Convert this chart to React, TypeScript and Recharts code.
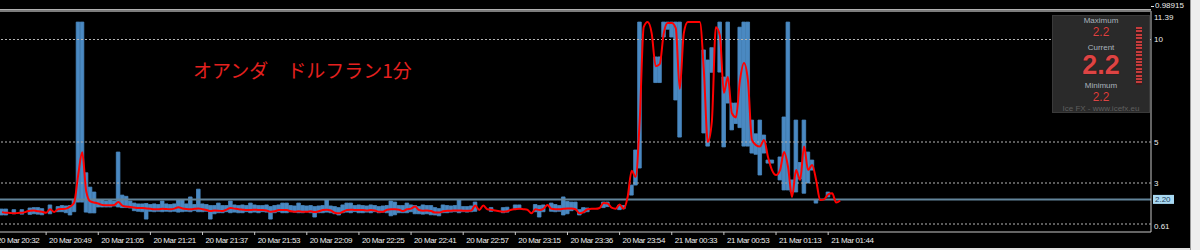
import React from "react";
import { ComposedChart, Bar, Line, XAxis, YAxis, ReferenceLine } from "recharts";

// spread range per 1-minute bar (low / high), null = no bar
const spreadLow: (number | null)[] = [
  1.44, 1.44, null, 1.5, null, 1.48, null, 1.47, 1.5, 1.48,
  1.45, null, 1.5, null, 1.6, 1.6, 1.55, 1.44, 1.6, 2.07,
  2.07, 1.58, 1.54, 1.54, 1.83, 1.83, 1.83, 1.83, 1.88, 1.83,
  1.8, 1.8, 1.78, 1.65, 1.62, 1.6, 1.24, 1.62, 1.6, 1.62,
  1.6, 1.62, 1.6, 1.62, 1.58, 1.6, 1.62, 1.6, 1.65, 1.6,
  1.6, 1.62, 1.24, 1.5, 1.55, 1.55, 1.6, 1.55, 1.58, 1.55,
  1.55, 1.6, 1.55, 1.58, 1.55, 1.6, 1.58, 1.24, 1.55, 1.6,
  1.55, 1.55, 1.6, 1.58, 1.55, 1.55, 1.6, 1.55, 1.34, 1.55,
  1.55, 1.58, 1.55, 1.5, 1.44, 1.55, 1.58, 1.55, 1.6, 1.55,
  1.55, 1.58, 1.55, 1.6, 1.55, 1.58, 1.55, 1.4, 1.45, 1.55,
  1.55, 1.55, 1.6, 1.5, 1.5, 1.48, 1.5, 1.45, 1.44, 1.4,
  1.55, 1.55, 1.58, 1.6, 1.55, 1.6, 1.58, 1.6, 1.62, null,
  null, null, 1.62, null, null, 1.55, 1.58, null, 1.75, 1.75,
  null, null, null, 1.6, 1.34, 1.6, null, 1.62, 1.6, 1.62,
  1.44, 1.5, 1.65, 1.7, 1.44, 1.55, 1.6, null, null, null,
  1.8, 1.85, null, null, 1.7, 1.75, null, 2.41, 2.9, 3.73,
  null, null, null, 7.9, 7.9, 10.12, 10.5, 10.12, 7.05, 5.24,
  null, null, null, null, null, 5.44, 4.8, 8.4, null, 8.41,
  4.76, 6.9, 5.59, 5.9, 5.7, 4.8, 4.8, 4.46, 4.4, 3.39,
  4.46, 3.97, 3.97, null, 3.15, 2.66, 2.66, 2.56, 2.56, 3.2,
  2.5, 3.0, 3.63, 2.02, null, null, 2.32, null, null, null,
];

const spreadHigh: (number | null)[] = [
  1.73, 1.73, null, 1.7, null, 1.7, null, 1.78, 1.8, 1.8,
  1.75, null, 1.93, null, 1.85, 1.9, 1.88, 1.9, 2.2, 10.85,
  10.85, 3.5, 2.8, 2.56, 2.17, 2.17, 2.12, 2.17, 2.12, 4.51,
  2.41, 2.35, 2.12, 2.02, 1.98, 1.98, 2.0, 1.95, 1.98, 1.95,
  2.12, 1.98, 1.95, 1.98, 2.17, 2.17, 1.98, 2.32, 1.95, 2.7,
  1.98, 1.95, 1.9, 1.9, 2.02, 1.9, 1.9, 2.12, 1.93, 1.9,
  1.93, 1.9, 2.02, 1.93, 1.9, 1.9, 1.93, 1.85, 1.9, 1.93,
  2.02, 2.02, 1.9, 1.88, 2.02, 1.9, 1.88, 1.9, 1.85, 1.88,
  1.9, 2.17, 1.88, 1.85, 1.8, 1.93, 2.02, 2.02, 1.9, 1.93,
  1.9, 1.88, 1.93, 1.9, 1.85, 1.88, 1.9, 2.12, 2.07, 1.9,
  1.9, 2.02, 1.93, 1.9, 1.85, 1.93, 1.9, 1.9, 1.8, 1.75,
  1.93, 1.9, 1.88, 1.9, 2.17, 1.85, 1.85, 1.88, 2.07, null,
  null, null, 1.8, null, null, 1.8, 1.82, null, 1.93, 1.93,
  null, null, null, 1.95, 1.9, 1.93, null, 2.02, 1.95, 1.9,
  2.32, 2.1, 2.07, 2.07, 1.7, 1.8, 1.78, null, null, null,
  2.07, 2.07, null, null, 1.92, 1.9, null, 2.9, 4.61, 10.85,
  null, null, null, 9.15, 9.15, 10.85, 10.85, 10.85, 10.85, 10.85,
  null, null, null, null, null, 9.49, 9.0, 9.6, null, 10.85,
  8.17, 10.85, 6.9, 6.9, 10.6, 10.85, 10.85, 6.07, 5.4, 6.07,
  5.34, 4.12, 4.12, null, 4.27, 6.22, 10.85, 3.15, 6.07, 4.0,
  6.07, 4.51, 4.12, 2.17, null, null, 2.56, null, null, null,
];

// average spread (red line)
const avgSpread: number[] = [
  1.58, 1.55, 1.54, 1.52, 1.54, 1.55, 1.6, 1.65, 1.66, 1.62,
  1.6, 1.55, 1.72, 1.58, 1.72, 1.73, 1.75, 1.85, 2.05, 3.4,
  4.5, 2.6, 2.1, 2.05, 2.0, 1.93, 1.92, 1.92, 1.93, 2.07,
  1.9, 1.85, 1.83, 1.8, 1.78, 1.78, 1.76, 1.74, 1.72, 1.72,
  1.74, 1.73, 1.72, 1.75, 1.82, 1.76, 1.73, 1.72, 1.74, 1.76,
  1.72, 1.68, 1.63, 1.66, 1.65, 1.63, 1.7, 1.78, 1.75, 1.72,
  1.7, 1.68, 1.68, 1.7, 1.68, 1.68, 1.66, 1.6, 1.62, 1.68,
  1.68, 1.68, 1.62, 1.6, 1.62, 1.6, 1.6, 1.62, 1.58, 1.62,
  1.68, 1.7, 1.66, 1.55, 1.52, 1.6, 1.68, 1.7, 1.68, 1.68,
  1.68, 1.66, 1.68, 1.66, 1.6, 1.6, 1.7, 1.72, 1.72, 1.7,
  1.63, 1.72, 1.75, 1.85, 1.68, 1.65, 1.66, 1.63, 1.56, 1.56,
  1.62, 1.65, 1.65, 1.66, 1.66, 1.65, 1.65, 1.66, 1.9, 1.68,
  1.9, 1.72, 1.7, 1.66, 1.62, 1.6, 1.62, 1.7, 1.72, 1.74,
  1.72, 1.7, 1.52, 1.72, 1.68, 1.74, 1.93, 1.74, 1.72, 1.72,
  1.74, 1.76, 1.76, 1.72, 1.52, 1.58, 1.72, 1.74, 1.74, 1.78,
  2.02, 2.0, 1.8, 1.75, 1.95, 1.75, 2.32, 3.6, 3.3, 6.0,
  10.6, 10.85, 10.3, 8.7, 8.8, 10.3, 10.8, 10.8, 10.55, 7.6,
  10.3, 10.85, 10.85, 10.85, 10.85, 8.5, 5.0, 6.0, 10.6, 10.2,
  7.4, 8.17, 6.4, 6.2, 8.0, 8.85, 8.0, 5.1, 4.85, 4.78,
  5.1, 4.27, 3.63, 3.39, 3.63, 4.51, 3.78, 2.32, 3.63, 3.15,
  4.78, 3.63, 3.88, 3.15, 2.17, 2.2, 2.45, 2.5, 2.05, 2.15,
];

const tickIndex = [-2, 11, 24, 37, 50, 63, 76, 89, 102, 115, 128, 141, 154, 167, 180, 193, 206];
const tickLabels = [
  "20 Mar 20:32", "20 Mar 20:49", "20 Mar 21:05", "20 Mar 21:21", "20 Mar 21:37",
  "20 Mar 21:53", "20 Mar 22:09", "20 Mar 22:25", "20 Mar 22:41", "20 Mar 22:57",
  "20 Mar 23:15", "20 Mar 23:36", "20 Mar 23:54", "21 Mar 00:33", "21 Mar 00:53",
  "21 Mar 01:13", "21 Mar 01:44",
];
const yTicks = [0.61, 2.2, 3, 5, 10, 11.39];
const yDomain: [number, number] = [0.61, 11.39];
const gridLevels = [10, 5, 3, 1.0];
const currentSpread = 2.2;
const maxSpread = 2.2;
const minSpread = 2.2;
const topPrice = "0.98915";
const title = "オアンダ　ドルフラン1分";

const data = avgSpread.map((v, i) => ({
  idx: i,
  range:
    spreadLow[i] != null && spreadHigh[i] != null ? [spreadLow[i], spreadHigh[i]] : null,
  avg: v,
}));

const FONT = "'Liberation Sans', Arial, sans-serif";
const BAR_COLOR = "#4a89c2";

const XTick = (props: any) => {
  const { x, y, payload } = props;
  const k = tickIndex.indexOf(payload.value);
  const label = k >= 0 ? tickLabels[k] : "";
  return (
    <text
      x={x + 3}
      y={y + 8}
      fill="#ececec"
      fontSize={8}
      fontFamily={FONT}
      letterSpacing={-0.4}
      textAnchor="start"
    >
      {label}
    </text>
  );
};

const YTick = (props: any) => {
  const { x, y, payload } = props;
  const v = payload.value;
  if (v === currentSpread) {
    return (
      <g>
        <rect x={x - 1} y={y - 4.5} width={21} height={9} fill="#a9d9f2" />
        <text x={x + 1} y={y + 3} fill="#23405a" fontSize={8} fontFamily={FONT}>
          {v.toFixed(2)}
        </text>
      </g>
    );
  }
  let dy = 3;
  if (v === yDomain[1]) dy = 9;
  if (v === yDomain[0]) dy = -3;
  return (
    <text x={x} y={y + dy} fill="#ececec" fontSize={8} fontFamily={FONT} textAnchor="start">
      {String(v)}
    </text>
  );
};

const panelLabel: React.CSSProperties = {
  position: "absolute",
  left: 0,
  width: 98,
  textAlign: "center",
  fontFamily: FONT,
  fontSize: 8,
  color: "#a9b3bd",
  lineHeight: "9px",
};
const panelValue: React.CSSProperties = {
  position: "absolute",
  left: 0,
  width: 98,
  textAlign: "center",
  fontFamily: FONT,
  fontSize: 12,
  color: "#d94646",
  lineHeight: "12px",
  textShadow: "0 0 1px #3a0000",
};

export default function App() {
  return (
    <div
      style={{
        position: "absolute",
        left: 0,
        top: 0,
        width: 1200,
        height: 250,
        background: "#000",
        overflow: "hidden",
      }}
    >
      <ComposedChart
        width={1200}
        height={250}
        data={data}
        margin={{ top: 11, right: 0, bottom: 0, left: 0 }}
        barGap={0}
        barCategoryGap={0}
      >
        {gridLevels.map((g) => (
          <ReferenceLine key={g} y={g} stroke="#b5b5b5" strokeDasharray="2 2" strokeWidth={1} />
        ))}
        <ReferenceLine y={currentSpread} stroke="#62849a" strokeWidth={2} />
        <XAxis
          dataKey="idx"
          type="number"
          domain={[-0.5, 286.5]}
          allowDataOverflow
          ticks={tickIndex}
          interval={0}
          tick={<XTick />}
          tickSize={3}
          tickMargin={0}
          tickLine={{ stroke: "#c8c8c8" }}
          axisLine={{ stroke: "#c8c8c8" }}
          height={18}
        />
        <YAxis
          orientation="right"
          type="number"
          domain={yDomain}
          allowDataOverflow
          ticks={yTicks}
          interval={0}
          width={49}
          tick={<YTick />}
          tickSize={0}
          tickMargin={3}
          tickLine={false}
          axisLine={{ stroke: "#c8c8c8" }}
        />
        <Bar
          dataKey="range"
          fill={BAR_COLOR}
          stroke={BAR_COLOR}
          strokeWidth={0.8}
          barSize={5}
          isAnimationActive={false}
        />
        <Line
          dataKey="avg"
          type="monotone"
          stroke="#ff0000"
          strokeWidth={2}
          dot={false}
          isAnimationActive={false}
        />
      </ComposedChart>

      {/* top frame line */}
      <div style={{ position: "absolute", left: 0, top: 9, width: 1151, height: 1, background: "#b0b0b0" }} />
      <div style={{ position: "absolute", left: 0, top: 10, width: 1151, height: 2, background: "#7c7c7c" }} />
      {/* top price label */}
      <div style={{ position: "absolute", left: 1151, top: 6, width: 3, height: 1, background: "#e6e6e6" }} />
      <div
        style={{
          position: "absolute",
          left: 1155,
          top: 1,
          fontFamily: FONT,
          fontSize: 8,
          lineHeight: "10px",
          color: "#ececec",
        }}
      >
        {topPrice}
      </div>
      {/* right window strip */}
      <div style={{ position: "absolute", left: 1190, top: 0, width: 10, height: 250, background: "#eeeeee", borderLeft: "1px solid #9a9a9a" }} />
      {/* bottom strip */}
      <div style={{ position: "absolute", left: 0, top: 248, width: 1190, height: 2, background: "#e2e2e2" }} />

      {/* title */}
      <div
        style={{
          position: "absolute",
          left: 193,
          top: 60,
          fontFamily: "'Noto Sans CJK JP', sans-serif",
          fontSize: 19,
          lineHeight: "19px",
          color: "#e5201f",
          whiteSpace: "pre",
        }}
      >
        {title}
      </div>

      {/* spread panel */}
      <div
        style={{
          position: "absolute",
          left: 1052,
          top: 15,
          width: 98,
          height: 98,
          background: "#2a2a2a",
          boxShadow: "inset 0 0 0 1px #3a3a3a",
        }}
      >
        <div style={{ ...panelLabel, top: 1 }}>Maximum</div>
        <div style={{ ...panelValue, top: 11 }}>{maxSpread.toFixed(1)}</div>
        <div style={{ ...panelLabel, top: 28 }}>Current</div>
        <div
          style={{
            ...panelValue,
            top: 40,
            fontSize: 27,
            lineHeight: "20px",
            fontWeight: "bold",
            color: "#dd4444",
          }}
        >
          {currentSpread.toFixed(1)}
        </div>
        <div style={{ ...panelLabel, top: 66 }}>Minimum</div>
        <div style={{ ...panelValue, top: 76 }}>{minSpread.toFixed(1)}</div>
        <div style={{ ...panelLabel, top: 89, color: "#5e5e5e" }}>Ice FX - www.icefx.eu</div>
        <div
          style={{
            position: "absolute",
            left: 84,
            top: 12,
            width: 6,
            height: 58,
            background: "repeating-linear-gradient(to bottom, #c63c3c 0px, #c63c3c 2px, #3a1c1c 2px, #3a1c1c 3.4px)",
          }}
        />
      </div>
    </div>
  );
}
